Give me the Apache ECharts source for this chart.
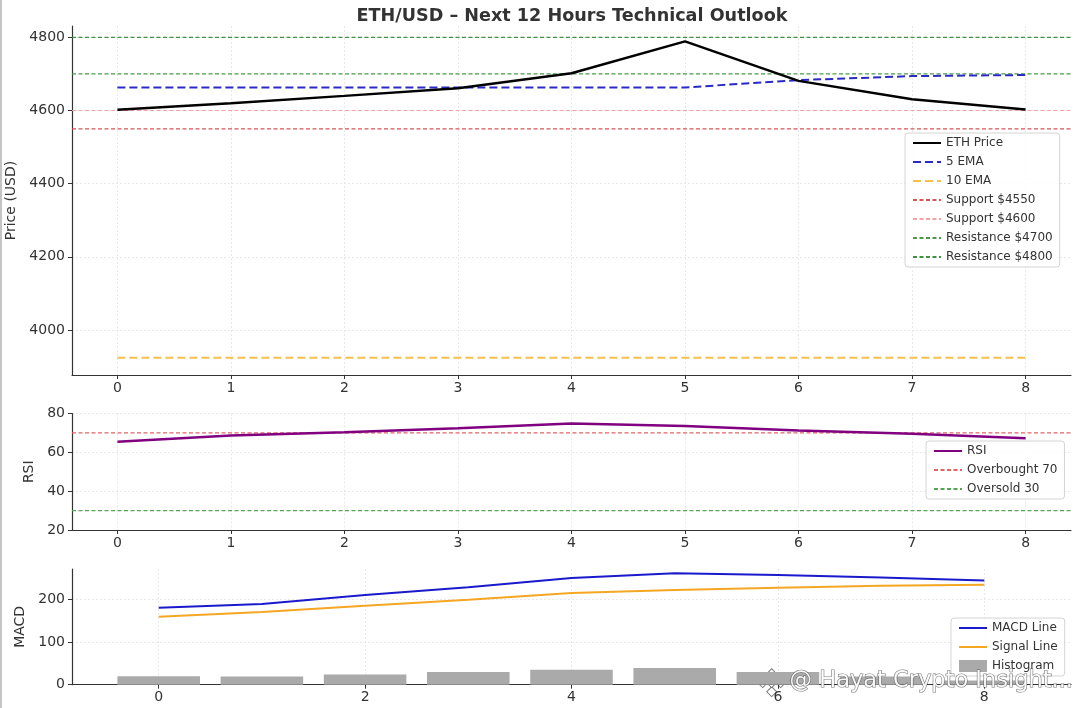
<!DOCTYPE html>
<html><head><meta charset="utf-8">
<script src="https://cdn.jsdelivr.net/npm/echarts@6/dist/echarts.min.js"></script>
<style>html,body{margin:0;padding:0;background:#fff}#c{width:1080px;height:708px}</style>
</head><body><div id="c"></div>
<script>
// ---------- data ----------
const hours = [0, 1, 2, 3, 4, 5, 6, 7, 8];
const ethPrice = [4602, 4620, 4640, 4661, 4702, 4789, 4681, 4631, 4603];
const ema5 = [4663, 4663, 4663, 4663, 4663, 4663, 4683, 4694, 4697];
const ema10 = [3924, 3924, 3924, 3924, 3924, 3924, 3924, 3924, 3924];
const supportLevels = [4550, 4600];
const resistanceLevels = [4700, 4800];
const rsi = [65.5, 68.7, 70.3, 72.4, 74.8, 73.6, 71.3, 69.6, 67.3];
const overboughtLevel = 70;
const oversoldLevel = 30;
const macdLine = [180, 189, 210, 228, 250, 261, 257, 251, 244];
const signalLine = [159, 170, 185, 199, 215, 222, 227, 232, 234];
const histogram = [20, 19, 24, 30, 35, 39, 30, 19, 10];
const priceTicks = [4000, 4200, 4400, 4600, 4800];
const hourTicks = [0, 1, 2, 3, 4, 5, 6, 7, 8];
const macdHourTicks = [0, 2, 4, 6, 8];
const rsiTicks = [20, 40, 60, 80];
const macdTicks = [0, 100, 200];

// axis bounds (matplotlib-style margins)
const HOUR_MIN = -0.4, HOUR_MAX = 8.4;
const MACD_HOUR_MIN = -0.84, MACD_HOUR_MAX = 8.84;

// ---------- helpers ----------
const FONT = 'DejaVu Sans';
const pairs = (ys) => hours.map((h, i) => [h, ys[i]]);
const gridLine = { show: true, lineStyle: { color: '#e2e2e2', type: [2, 2], width: 0.8 } };
function axis(kind, gridIndex, min, max, ticks, extra) {
  return Object.assign({
    type: 'value', gridIndex, min, max,
    axisLine: { show: true, onZero: false, lineStyle: { color: '#333', width: 1.2 } },
    axisTick: { show: true, inside: false, length: 4, customValues: ticks, lineStyle: { color: '#333', width: 1 } },
    axisLabel: { customValues: ticks, color: '#333', fontSize: 14, fontFamily: FONT, margin: kind === 'x' ? 6 : 7,
      formatter: (v) => String(v) },
    splitLine: gridLine
  }, extra || {});
}
function refLine(name, level, color, xi, yi) {
  return {
    name, type: 'line', xAxisIndex: xi, yAxisIndex: yi, symbol: 'none', z: 3,
    data: [[HOUR_MIN, level], [HOUR_MAX, level]],
    itemStyle: { color }, lineStyle: { color, width: 1.2, type: [4, 2.5] }
  };
}
const legendBase = {
  orient: 'vertical', itemWidth: 28, itemHeight: 12, itemGap: 7,
  backgroundColor: 'rgba(255,255,255,0.85)', borderColor: '#d4d4d4', borderWidth: 1, borderRadius: 3,
  padding: [4, 7, 4, 7], textStyle: { color: '#333', fontSize: 12, fontFamily: FONT },
  itemStyle: { opacity: 0 }
};
const gridBase = { left: 72, right: 9, containLabel: false, outerBoundsMode: 'none' };

const chart = echarts.init(document.getElementById('c'));
chart.setOption({
  animation: false,
  backgroundColor: '#fff',
  title: { text: 'ETH/USD – Next 12 Hours Technical Outlook', left: 567, top: 2, textAlign: 'center',
    textStyle: { fontFamily: FONT, fontWeight: 'bold', fontSize: 17.6, color: '#333' } },
  grid: [
    Object.assign({ top: 26, height: 349 }, gridBase),
    Object.assign({ top: 413.5, height: 116.5 }, gridBase),
    Object.assign({ top: 569, height: 115.7 }, gridBase)
  ],
  xAxis: [
    axis('x', 0, HOUR_MIN, HOUR_MAX, hourTicks),
    axis('x', 1, HOUR_MIN, HOUR_MAX, hourTicks),
    axis('x', 2, MACD_HOUR_MIN, MACD_HOUR_MAX, macdHourTicks)
  ],
  yAxis: [
    axis('y', 0, 3877, 4831, priceTicks, { name: 'Price (USD)', nameLocation: 'middle', nameGap: 49,
      nameTextStyle: { fontFamily: FONT, fontSize: 14, color: '#333' } }),
    axis('y', 1, 20, 80, rsiTicks, { name: 'RSI', nameLocation: 'middle', nameGap: 36,
      nameTextStyle: { fontFamily: FONT, fontSize: 14, color: '#333' } }),
    axis('y', 2, 0, 271, macdTicks, { name: 'MACD', nameLocation: 'middle', nameGap: 45,
      nameTextStyle: { fontFamily: FONT, fontSize: 14, color: '#333' } })
  ],
  legend: [
    Object.assign({}, legendBase, { left: 905, top: 133,
      data: ['ETH Price', '5 EMA', '10 EMA', 'Support $4550', 'Support $4600', 'Resistance $4700', 'Resistance $4800'] }),
    Object.assign({}, legendBase, { left: 926, top: 441, data: ['RSI', 'Overbought 70', 'Oversold 30'] }),
    Object.assign({}, legendBase, { left: 951, top: 618,
      data: ['MACD Line', 'Signal Line', { name: 'Histogram', icon: 'rect', itemStyle: { opacity: 1, color: '#aaaaaa' } }] })
  ],
  series: [
    refLine('Support $4550', supportLevels[0], '#d65656', 0, 0),
    refLine('Support $4600', supportLevels[1], '#f2a4a4', 0, 0),
    refLine('Resistance $4700', resistanceLevels[0], '#4a9a4a', 0, 0),
    refLine('Resistance $4800', resistanceLevels[1], '#3f923f', 0, 0),
    { name: 'ETH Price', type: 'line', xAxisIndex: 0, yAxisIndex: 0, data: pairs(ethPrice), symbol: 'none', z: 5,
      itemStyle: { color: '#000' }, lineStyle: { color: '#000', width: 2.5 } },
    { name: '5 EMA', type: 'line', xAxisIndex: 0, yAxisIndex: 0, data: pairs(ema5), symbol: 'none', z: 4,
      itemStyle: { color: '#2a2ac8' }, lineStyle: { color: '#2a2ac8', width: 2, type: [8, 4] } },
    { name: '10 EMA', type: 'line', xAxisIndex: 0, yAxisIndex: 0, data: pairs(ema10), symbol: 'none', z: 4,
      itemStyle: { color: '#f7c04e' }, lineStyle: { color: '#f7c04e', width: 2, type: [8, 4] } },

    refLine('Overbought 70', overboughtLevel, '#e06464', 1, 1),
    refLine('Oversold 30', oversoldLevel, '#56a656', 1, 1),
    { name: 'RSI', type: 'line', xAxisIndex: 1, yAxisIndex: 1, data: pairs(rsi), symbol: 'none', z: 5,
      itemStyle: { color: '#800080' }, lineStyle: { color: '#800080', width: 2.5 } },

    { name: 'Histogram', type: 'custom', xAxisIndex: 2, yAxisIndex: 2, data: pairs(histogram), z: 2,
      encode: { x: 0, y: 1 }, itemStyle: { color: '#aaaaaa' },
      renderItem: function (params, api) {
        const x = api.value(0), v = api.value(1);
        const a = api.coord([x - 0.4, v]);
        const b = api.coord([x + 0.4, 0]);
        return { type: 'rect', shape: { x: a[0], y: a[1], width: b[0] - a[0], height: b[1] - a[1] },
          style: { fill: '#aaaaaa' } };
      } },
    { name: 'MACD Line', type: 'line', xAxisIndex: 2, yAxisIndex: 2, data: pairs(macdLine), symbol: 'none', z: 5,
      itemStyle: { color: '#1a1acc' }, lineStyle: { color: '#1a1acc', width: 2 } },
    { name: 'Signal Line', type: 'line', xAxisIndex: 2, yAxisIndex: 2, data: pairs(signalLine), symbol: 'none', z: 5,
      itemStyle: { color: '#f5a623' }, lineStyle: { color: '#f5a623', width: 2 } }
  ],
  graphic: [
    { type: 'rect', left: 0, top: 0, shape: { width: 2, height: 708 }, style: { fill: '#c4c4c4' }, silent: true },
    { type: 'group', left: 757, top: 668, silent: true, z: 100, children: [
      { type: 'rect', x: 13, y: 0, rotation: Math.PI / 4, shape: { width: 7, height: 7 }, style: { fill: 'rgba(255,255,255,0.9)', stroke: 'rgba(90,90,90,0.8)', lineWidth: 1 } },
      { type: 'rect', x: 4, y: 9, rotation: Math.PI / 4, shape: { width: 7, height: 7 }, style: { fill: 'rgba(255,255,255,0.9)', stroke: 'rgba(90,90,90,0.8)', lineWidth: 1 } },
      { type: 'rect', x: 22, y: 9, rotation: Math.PI / 4, shape: { width: 7, height: 7 }, style: { fill: 'rgba(255,255,255,0.9)', stroke: 'rgba(90,90,90,0.8)', lineWidth: 1 } },
      { type: 'rect', x: 13, y: 18, rotation: Math.PI / 4, shape: { width: 7, height: 7 }, style: { fill: 'rgba(255,255,255,0.9)', stroke: 'rgba(90,90,90,0.8)', lineWidth: 1 } },
      { type: 'rect', x: 13, y: 9, rotation: Math.PI / 4, shape: { width: 7, height: 7 }, style: { fill: 'rgba(255,255,255,0.9)', stroke: 'rgba(90,90,90,0.8)', lineWidth: 1 } }
    ] },
    { type: 'text', left: 789, top: 669, silent: true, z: 100,
      style: { text: '@ Hayat Crypto Insight...', font: '22.5px "DejaVu Sans"', fill: 'rgba(255,255,255,0.92)',
        stroke: 'rgba(80,80,80,0.75)', lineWidth: 1.2 } }
  ]
});
</script></body></html>
